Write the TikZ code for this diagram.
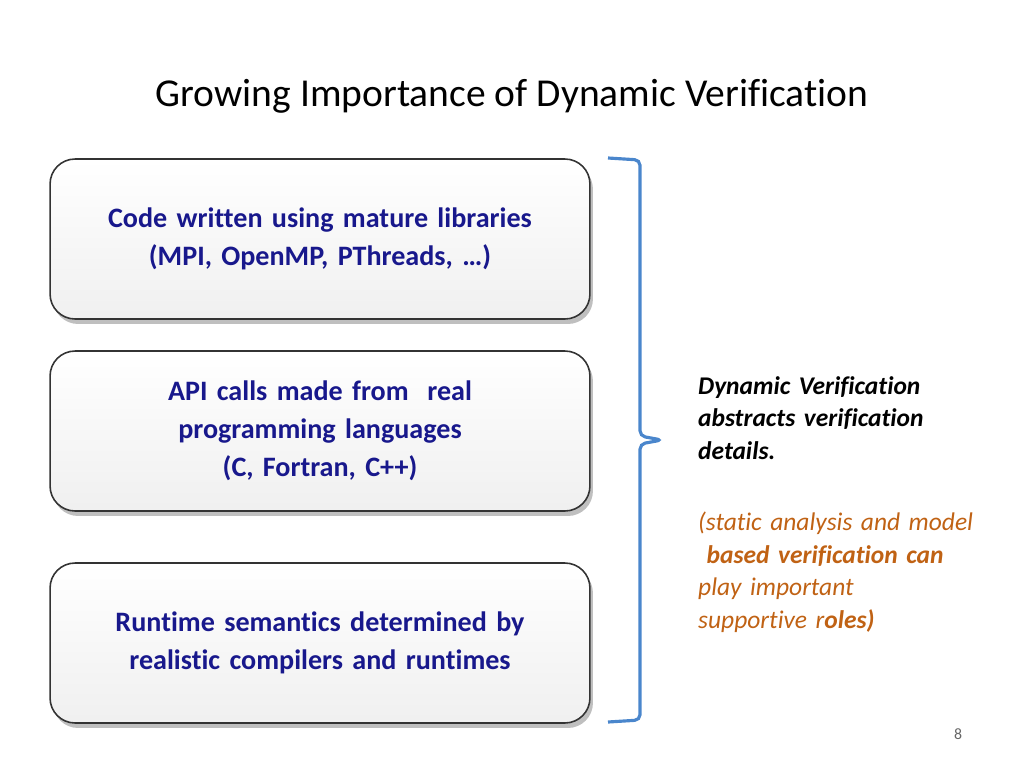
\documentclass[tikz,border=0pt]{standalone}
\usepackage{fontspec}
\setmainfont{Carlito}[RawFeature=-liga]
\usetikzlibrary{positioning,shadows}
\definecolor{boxtext}{RGB}{24,24,140}
\definecolor{notecol}{RGB}{192,98,20}
\definecolor{bracecol}{RGB}{74,134,204}
\tikzset{%
  % Specifications for style of nodes:
  claim/.style = {rectangle, rounded corners=0.5cm, draw=black!80, line width=0.9pt,
    minimum width=10.8cm, minimum height=3.2cm,
    text width=10.4cm, align=center, font=\fontsize{16}{21.5}\selectfont\bfseries,
    text=boxtext, top color=white, bottom color=black!6,
    drop shadow={shadow xshift=0.06cm, shadow yshift=-0.1cm, fill=black!50}},
  note/.style = {text width=7cm, align=left, font=\fontsize{14.5}{18.5}\selectfont\itshape},
}
\begin{document}
\begin{tikzpicture}[x=0.02cm, y=-0.02cm]
        \useasboundingbox (0,0) rectangle (1024,768);
        % title
        \node(Title) at (512,96) {\fontsize{22.5}{26}\selectfont Growing Importance of Dynamic Verification};
        % boxes
        \node(Libs)[claim] at (320,239) {Code written using mature libraries\\(MPI, OpenMP, PThreads, …)};
        \node(Calls)[claim] at (320,431) {API calls made from\ \ real\\programming languages\\(C, Fortran, C++)};
        \node(Semantics)[claim] at (320,643) {Runtime semantics determined by\\realistic compilers and runtimes};
        % brace
        \coordinate(Top) at (608,158);
        \coordinate(Tip) at (662,440);
        \coordinate(Bot) at (608,722);
        \draw[bracecol, line width=1.8pt, rounded corners=3pt]
          (Top) -- (640,160) -- (640,436) -- (Tip) -- (640,444) -- (640,720) -- (Bot);
        % side notes
        \node(Claim)[note, anchor=north west] at (692,370)
          {\bfseries Dynamic Verification\\abstracts verification\\details.};
        \node(Aside)[note, anchor=north west, text=notecol] at (692,506)
          {(static analysis and model\\\ \textbf{based verification can}\\play important\\supportive r\textbf{oles)}};
        \node(Page) at (958,734) {\fontsize{9}{10}\selectfont\color{black!60}8};
    \end{tikzpicture}
\end{document}
